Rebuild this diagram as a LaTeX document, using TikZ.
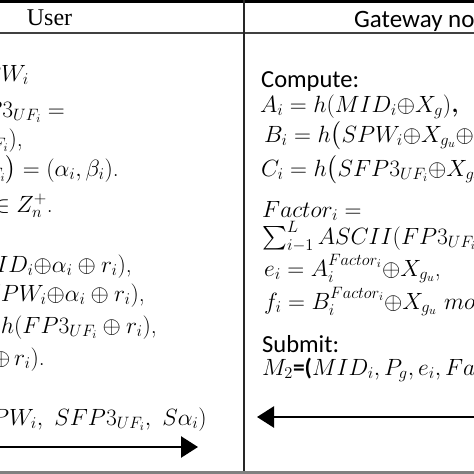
\RequirePackage{fix-cm}
\documentclass[tikz,border=0pt]{standalone}
\usepackage{amsmath}
\usepackage{amssymb}
\usepackage{fontspec}
\newfontfamily\calibrifont{Carlito}
\newfontfamily\timesfont{Liberation Serif}
\usetikzlibrary{arrows.meta}

\begin{document}
\begin{tikzpicture}[x=1pt, y=-1pt,
    mathtxt/.style={inner sep=0pt, font=\fontsize{23.5}{28}\selectfont},
    usertxt/.style={mathtxt, anchor=base east},
    gatetxt/.style={mathtxt, anchor=base west},
    wordtxt/.style={inner sep=0pt, anchor=base west, font=\calibrifont\fontsize{24.5}{28}\selectfont},
    rule/.style={line width=#1},
    msg/.style={line width=2.5pt, -{Triangle[length=17pt,width=21pt]}}]

    \useasboundingbox (0,0) rectangle (474,474);
    \clip (0,0) rectangle (474,474);

    % table rules
    \draw[rule=3pt, black] (0,1.5) -- (474,1.5);
    \draw[rule=2pt, black!75] (0,32.5) -- (474,32.5);
    \draw[rule=2pt, black!85] (244,0) -- (244,474);
    \draw[rule=3pt, black!50] (0,472.5) -- (474,472.5);

    % headings
    \node[inner sep=0pt, anchor=base, font=\timesfont\fontsize{24}{28}\selectfont] (userhead) at (49.5,25) {User};
    \node[wordtxt, font=\calibrifont\fontsize{25}{28}\selectfont] (gatehead) at (354,27) {Gateway node};

    % user side
    \node[usertxt] (u1) at (29,81) {$SPW_i$};
    \node[usertxt] (u2) at (65,117) {$SFP3_{UF_i} =$};
    \node[usertxt] (u3) at (23,146) {$h(FP3_{UF_i})$,};
    \node[usertxt] (u4) at (119,176) {$Gen\bigl(FP3_{UF_i}\bigr) = (\alpha_i, \beta_i)$.};
    \node[usertxt] (u5) at (53,212) {$r_i \in Z_n^{+}$.};

    \node[usertxt] (u6) at (132,272) {$h(MID_i{\oplus}\alpha_i \oplus r_i)$,};
    \node[usertxt] (u7) at (145,301) {$h(SPW_i{\oplus}\alpha_i \oplus r_i)$,};
    \node[usertxt] (u8) at (157,333) {$h(FP3_{UF_i} \oplus r_i)$,};
    \node[usertxt] (u9) at (45,365) {$h(\alpha_i{\oplus}\,r_i)$.};

    \node[usertxt] (u10) at (207,425) {$(SMID_i,\ SPW_i,\ SFP3_{UF_i},\ S\alpha_i)$};
    \coordinate (userout) at (-5,447);
    \coordinate (gatein) at (198,447);
    \draw[msg] (userout) -- (gatein);

    % gateway side
    \node[wordtxt] (g1) at (261,87) {Compute:};
    \node[gatetxt] (g2) at (260,112) {$A_i = h(MID_i{\oplus}X_g)$\textbf{,}};
    \node[gatetxt] (g3) at (264,142) {$B_i = h\bigl(SPW_i{\oplus}X_{g_u}{\oplus}$};
    \node[gatetxt] (g4) at (261,176) {$C_i = h\bigl(SFP3_{UF_i}{\oplus}X_{g_u}$};
    \node[gatetxt] (g5) at (262,217) {$Factor_i =$};
    \node[gatetxt] (g6) at (262,244) {$\sum_{i-1}^{L} ASCII(FP3_{UF_i}{\oplus}$};
    \node[gatetxt] (g7) at (264,276) {$e_i = A_i^{Factor_i}{\oplus}X_{g_u}$,};
    \node[gatetxt] (g8) at (264,309) {$f_i = B_i^{Factor_i}{\oplus}X_{g_u}\ mod$};
    \node[wordtxt] (g9) at (262,352) {Submit:};
    \node[gatetxt] (g10) at (262,375) {$M_2$\textbf{\calibrifont=(}$MID_i, P_g, e_i, Factor_i$};
    \coordinate (gateout) at (480,417);
    \coordinate (userin) at (257,417);
    \draw[msg] (gateout) -- (userin);

\end{tikzpicture}
\end{document}
